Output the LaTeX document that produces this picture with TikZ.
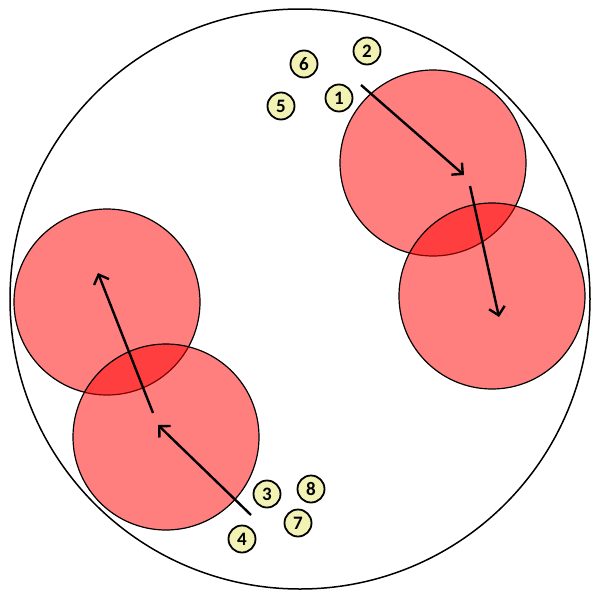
\documentclass[tikz,border=0pt]{standalone}
\usepackage{fontspec}
\setmainfont{Carlito}
\usetikzlibrary{arrows.meta}
\definecolor{numfill}{HTML}{F2F2B5}
\tikzset{
  zone/.style={circle, draw=black, line width=0.6pt, fill=red, fill opacity=0.5, text opacity=1, minimum size=93pt, inner sep=0pt},
  numdot/.style={circle, draw=black, line width=0.9pt, fill=numfill, minimum size=13.5pt, inner sep=0pt, font=\fontsize{9.5}{10}\selectfont\bfseries},
  move/.style={line width=1.2pt, -{Straight Barb[length=4pt,width=8pt,line width=1.2pt]}}
}
\begin{document}
\begin{tikzpicture}[x=0.5pt,y=-0.5pt]
\useasboundingbox (0,0) rectangle (600,600);
\node[circle, draw=black, line width=0.75pt, minimum size=290pt, inner sep=0pt] (arena) at (300,299) {};
\node[zone] (za) at (433,163) {};
\node[zone] (zb) at (492,296) {};
\node[zone] (zc) at (107,302) {};
\node[zone] (zd) at (166,437) {};
\coordinate (a1s) at (361,85);
\coordinate (a1e) at (464,175);
\coordinate (a2s) at (470,186);
\coordinate (a2e) at (499,317);
\coordinate (a3s) at (251,515);
\coordinate (a3e) at (158,425);
\coordinate (a4s) at (153,413);
\coordinate (a4e) at (98,273);
\draw[move] (a1s) -- (a1e);
\draw[move] (a2s) -- (a2e);
\draw[move] (a3s) -- (a3e);
\draw[move] (a4s) -- (a4e);
\node[numdot] (n1) at (339,98) {1};
\node[numdot] (n2) at (367,51) {2};
\node[numdot] (n5) at (281,106) {5};
\node[numdot] (n6) at (304,64) {6};
\node[numdot] (n3) at (267,494) {3};
\node[numdot] (n8) at (311,489) {8};
\node[numdot] (n7) at (298,523) {7};
\node[numdot] (n4) at (242,539) {4};
\end{tikzpicture}
\end{document}
